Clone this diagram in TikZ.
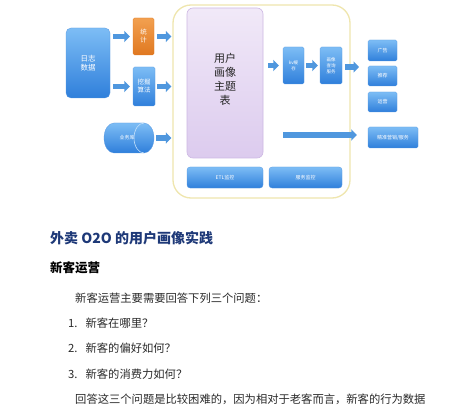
\documentclass[tikz,border=0pt]{standalone}
\usepackage{fontspec}
\setmainfont{Noto Sans CJK SC}
\usetikzlibrary{shapes.geometric,arrows.meta}
\definecolor{bluetop}{HTML}{7DBDF5}
\definecolor{bluebot}{HTML}{2F7FDB}
\definecolor{orgtop}{HTML}{F2A050}
\definecolor{orgbot}{HTML}{E07820}
\definecolor{arrowc}{HTML}{4F97DE}
\definecolor{framec}{HTML}{EFE6AE}
\definecolor{purptop}{HTML}{F1E9F8}
\definecolor{purpbot}{HTML}{DCCBEE}
\definecolor{purpline}{HTML}{CDB8E3}
\definecolor{titlec}{HTML}{1E3978}
\definecolor{bodyc}{HTML}{2A2A2A}
\tikzset{
  bbox/.style={rectangle, rounded corners=1.5pt, top color=bluetop, bottom color=bluebot, draw=bluebot!80!white, line width=0.3pt, text=white, align=center, inner sep=0pt, font=\fontsize{5}{6}\selectfont},
  obox/.style={bbox, top color=orgtop, bottom color=orgbot, draw=orgbot},
  barrow/.style={draw=arrowc, line width=5.5pt, -{Triangle[width=11pt,length=5.5pt]}},
  txt/.style={anchor=base west, inner sep=0pt, text=bodyc, font=\fontsize{11.3}{13}\selectfont},
}
\begin{document}
\begin{tikzpicture}[x=1pt,y=-1pt]
\useasboundingbox[fill=white] (0,0) rectangle (474,417);
% frame
\node[draw=framec, line width=1.3pt, rounded corners=18pt, minimum width=177pt, minimum height=193pt, inner sep=0pt] (frame) at (261.5,101.5) {};
% left side
\node[bbox, rounded corners=5pt, minimum width=44pt, minimum height=70pt, font=\fontsize{7.5}{9}\selectfont] (log) at (88,63) {日志\\数据};
\node[obox, minimum width=21pt, minimum height=37pt, font=\fontsize{6.5}{8}\selectfont] (stat) at (143.5,36.5) {统\\计};
\node[bbox, minimum width=22pt, minimum height=39pt, font=\fontsize{6.5}{8}\selectfont] (mine) at (144,86.5) {挖掘\\算法};
% cylinder
\path[top color=bluetop, bottom color=bluebot, draw=bluebot!80!white, line width=0.3pt]
  (114,123) -- (144,123) arc[start angle=-90, end angle=90, x radius=10, y radius=15]
  -- (114,153) arc[start angle=90, end angle=270, x radius=10, y radius=15] -- cycle;
\draw[white!55!bluetop, line width=0.6pt] (144,123) arc[start angle=-90, end angle=-270, x radius=10, y radius=15];
\node[minimum width=50pt, minimum height=30pt, inner sep=0pt, text=white, font=\fontsize{5}{6}\selectfont] (db) at (127,138) {业务库};
% center
\node[rectangle, rounded corners=6pt, top color=purptop, bottom color=purpbot, draw=purpline, line width=0.6pt, minimum width=76pt, minimum height=150pt, inner sep=0pt] (theme) at (225,83) {};
\node[align=center, font=\fontsize{11}{14}\selectfont, text=black!85] (themet) at (225,79) {用户\\画像\\主题\\表};
\node[bbox, rounded corners=3pt, minimum width=76pt, minimum height=21pt] (etl) at (225,177.5) {ETL监控};
\node[bbox, rounded corners=3pt, minimum width=73pt, minimum height=21pt] (svc) at (305.5,177.5) {服务监控};
\node[bbox, minimum width=21pt, minimum height=37pt, font=\fontsize{4.5}{6}\selectfont] (kv) at (293.5,65.5) {kv缓\\存};
\node[bbox, minimum width=22pt, minimum height=37pt, font=\fontsize{4.5}{6}\selectfont] (query) at (331,65.5) {画像\\查询\\服务};
% right
\node[bbox, minimum width=29pt, minimum height=21pt] (ad) at (382.5,50.5) {广告};
\node[bbox, minimum width=29pt, minimum height=20pt] (rec) at (382.5,76) {推荐};
\node[bbox, minimum width=29pt, minimum height=20pt] (op) at (382.5,102) {运营};
\node[bbox, minimum width=50pt, minimum height=21pt] (jz) at (393,137.5) {精准营销/服务};
% arrows
\draw[barrow, shorten <=3pt, shorten >=3pt] (log.east |- stat.west) -- (stat.west);
\draw[barrow, shorten <=3pt, shorten >=3pt] (log.east |- mine.west) -- (mine.west);
\draw[barrow, shorten <=3pt, shorten >=1pt] (stat.east) -- (stat.east -| frame.west);
\draw[barrow, shorten <=2pt, shorten >=1pt] (mine.east) -- (mine.east -| frame.west);
\draw[barrow, shorten <=4pt, shorten >=1pt] (db.east) -- (db.east -| frame.west);
\draw[barrow, shorten <=5pt, shorten >=4pt] (kv.west -| theme.east) -- (kv.west);
\draw[barrow, shorten <=2pt, shorten >=2pt] (kv.east) -- (query.west);
\coordinate (qend) at (359,67);
\draw[barrow, shorten <=3pt] (query.east |- qend) -- (qend);
\coordinate (ls) at (283,135);
\draw[barrow, shorten >=11pt] (ls) -- (jz.west |- ls);
% text
\node[anchor=base west, inner sep=0pt, text=titlec, font=\fontsize{14}{16}\selectfont\bfseries] (title) at (50,243) {外卖 O2O 的用户画像实践};
\node[anchor=base west, inner sep=0pt, text=black, font=\fontsize{12.5}{14}\selectfont\bfseries] (h1) at (50,272) {新客运营};
\node[txt] (p1) at (75,302) {新客运营主要需要回答下列三个问题：};
\node[txt] (l1) at (68,327) {1.\hspace{8pt}新客在哪里？};
\node[txt] (l2) at (68,352) {2.\hspace{8pt}新客的偏好如何？};
\node[txt] (l3) at (68,378) {3.\hspace{8pt}新客的消费力如何？};
\node[txt] (p2) at (75,403) {回答这三个问题是比较困难的，因为相对于老客而言，新客的行为数据};
\end{tikzpicture}
\end{document}
